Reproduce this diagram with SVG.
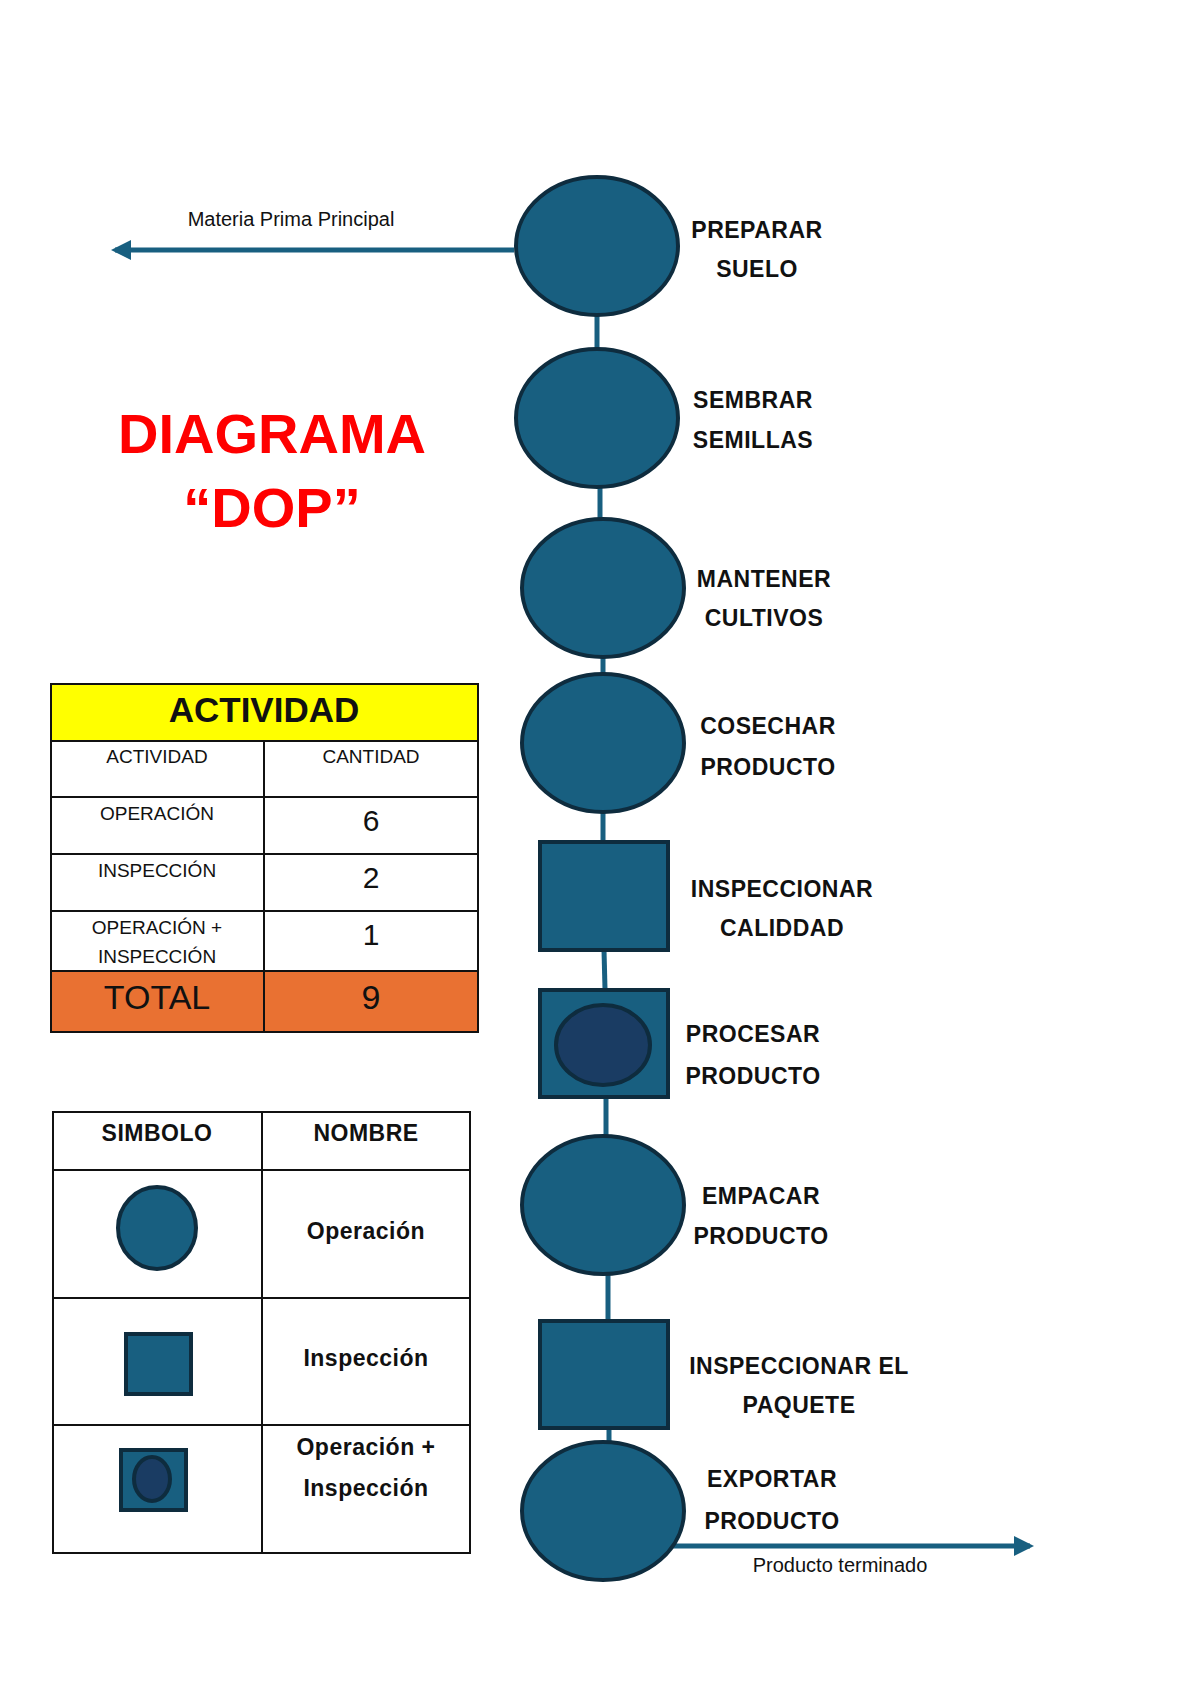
<svg xmlns="http://www.w3.org/2000/svg" width="1200" height="1696" viewBox="0 0 1200 1696">
<style>
.n{fill:#185F80;stroke:#0E2C3E;stroke-width:4}
.in{fill:#1A3C63;stroke:#0E2C3E;stroke-width:4}
.c{stroke:#185F80;stroke-width:5;fill:none}
.lb{font-family:"Liberation Sans",Arial,sans-serif;font-weight:bold;font-size:23px;fill:#111;text-anchor:middle;letter-spacing:0.5px}
.t{font-family:"Liberation Sans",Arial,sans-serif;fill:#111;text-anchor:middle}
.g{stroke:#111;stroke-width:2;fill:none}
</style>
<defs>
<marker id="ah" viewBox="0 0 10 10" refX="8" refY="5" markerWidth="4" markerHeight="4" orient="auto"><path d="M0,0 L10,5 L0,10 z" fill="#185F80"/></marker>
</defs>
<g id="connectors">
<line class="c" x1="597" y1="316" x2="597" y2="348"/>
<line class="c" x1="600" y1="488" x2="600" y2="518"/>
<line class="c" x1="603" y1="658" x2="603" y2="673"/>
<line class="c" x1="603" y1="813" x2="603" y2="841"/>
<line class="c" x1="604" y1="950" x2="605" y2="989"/>
<line class="c" x1="606" y1="1097" x2="606" y2="1135"/>
<line class="c" x1="608" y1="1275" x2="608" y2="1320"/>
<line class="c" x1="609" y1="1428" x2="609" y2="1444"/>
<line class="c" x1="514" y1="250" x2="115" y2="250" marker-end="url(#ah)"/>
<line class="c" x1="672" y1="1546" x2="1030" y2="1546" marker-end="url(#ah)"/>
<text class="t" x="291" y="226" font-size="20">Materia Prima Principal</text>
<text class="t" x="840" y="1572" font-size="20">Producto terminado</text>
</g>
<g id="title">
<text x="272" y="453" font-family="Liberation Sans,Arial,sans-serif" font-weight="bold" font-size="56" fill="#FF0000" text-anchor="middle">DIAGRAMA</text>
<text x="272" y="527" font-family="Liberation Sans,Arial,sans-serif" font-weight="bold" font-size="56" fill="#FF0000" text-anchor="middle">“DOP”</text>
</g>
<g id="n1"><ellipse class="n" cx="597" cy="246" rx="81" ry="69"/><text class="lb" x="757" y="238">PREPARAR</text><text class="lb" x="757" y="277">SUELO</text></g>
<g id="n2"><ellipse class="n" cx="597" cy="418" rx="81" ry="69"/><text class="lb" x="753" y="408">SEMBRAR</text><text class="lb" x="753" y="448">SEMILLAS</text></g>
<g id="n3"><ellipse class="n" cx="603" cy="588" rx="81" ry="69"/><text class="lb" x="764" y="587">MANTENER</text><text class="lb" x="764" y="626">CULTIVOS</text></g>
<g id="n4"><ellipse class="n" cx="603" cy="743" rx="81" ry="69"/><text class="lb" x="768" y="734">COSECHAR</text><text class="lb" x="768" y="775">PRODUCTO</text></g>
<g id="n5"><rect class="n" x="540" y="842" width="128" height="108"/><text class="lb" x="782" y="897">INSPECCIONAR</text><text class="lb" x="782" y="936">CALIDDAD</text></g>
<g id="n6"><rect class="n" x="540" y="990" width="128" height="107"/><ellipse class="in" cx="603" cy="1045" rx="47" ry="40"/><text class="lb" x="753" y="1042">PROCESAR</text><text class="lb" x="753" y="1084">PRODUCTO</text></g>
<g id="n7"><ellipse class="n" cx="603" cy="1205" rx="81" ry="69"/><text class="lb" x="761" y="1204">EMPACAR</text><text class="lb" x="761" y="1244">PRODUCTO</text></g>
<g id="n8"><rect class="n" x="540" y="1321" width="128" height="107"/><text class="lb" x="799" y="1374">INSPECCIONAR EL</text><text class="lb" x="799" y="1413">PAQUETE</text></g>
<g id="n9"><ellipse class="n" cx="603" cy="1511" rx="81" ry="69"/><text class="lb" x="772" y="1487">EXPORTAR</text><text class="lb" x="772" y="1529">PRODUCTO</text></g>
<g id="table-actividad">
<rect x="51" y="684" width="427" height="57" fill="#FFFF00"/>
<rect x="51" y="971" width="427" height="61" fill="#E97132"/>
<rect class="g" x="51" y="684" width="427" height="348" stroke-width="3"/>
<line class="g" x1="51" y1="741" x2="478" y2="741" stroke-width="3"/>
<line class="g" x1="51" y1="797" x2="478" y2="797"/>
<line class="g" x1="51" y1="854" x2="478" y2="854"/>
<line class="g" x1="51" y1="911" x2="478" y2="911"/>
<line class="g" x1="51" y1="971" x2="478" y2="971" stroke-width="3"/>
<line class="g" x1="264" y1="741" x2="264" y2="1032"/>
<text class="t" x="264" y="722" font-size="35" font-weight="bold">ACTIVIDAD</text>
<text class="t" x="157" y="763" font-size="19">ACTIVIDAD</text>
<text class="t" x="371" y="763" font-size="19">CANTIDAD</text>
<text class="t" x="157" y="820" font-size="19">OPERACIÓN</text>
<text class="t" x="371" y="831" font-size="30">6</text>
<text class="t" x="157" y="877" font-size="19">INSPECCIÓN</text>
<text class="t" x="371" y="888" font-size="30">2</text>
<text class="t" x="157" y="934" font-size="19">OPERACIÓN +</text>
<text class="t" x="157" y="963" font-size="19">INSPECCIÓN</text>
<text class="t" x="371" y="945" font-size="30">1</text>
<text class="t" x="157" y="1009" font-size="34">TOTAL</text>
<text class="t" x="371" y="1009" font-size="34">9</text>
</g>
<g id="table-simbolos">
<rect class="g" x="53" y="1112" width="417" height="441"/>
<line class="g" x1="53" y1="1170" x2="470" y2="1170"/>
<line class="g" x1="53" y1="1298" x2="470" y2="1298" stroke-width="3"/>
<line class="g" x1="53" y1="1425" x2="470" y2="1425" stroke-width="3"/>
<line class="g" x1="262" y1="1112" x2="262" y2="1553"/>
<text class="lb" x="157" y="1141" font-size="25">SIMBOLO</text>
<text class="lb" x="366" y="1141" font-size="25">NOMBRE</text>
<ellipse class="n" cx="157" cy="1228" rx="39" ry="41"/>
<rect class="n" x="126" y="1334" width="65" height="60"/>
<rect class="n" x="121" y="1450" width="65" height="60"/>
<ellipse class="in" cx="152" cy="1479" rx="18" ry="22"/>
<text class="lb" x="366" y="1239" font-size="26">Operación</text>
<text class="lb" x="366" y="1366" font-size="26">Inspección</text>
<text class="lb" x="366" y="1455" font-size="26">Operación +</text>
<text class="lb" x="366" y="1496" font-size="26">Inspección</text>
</g>
</svg>
